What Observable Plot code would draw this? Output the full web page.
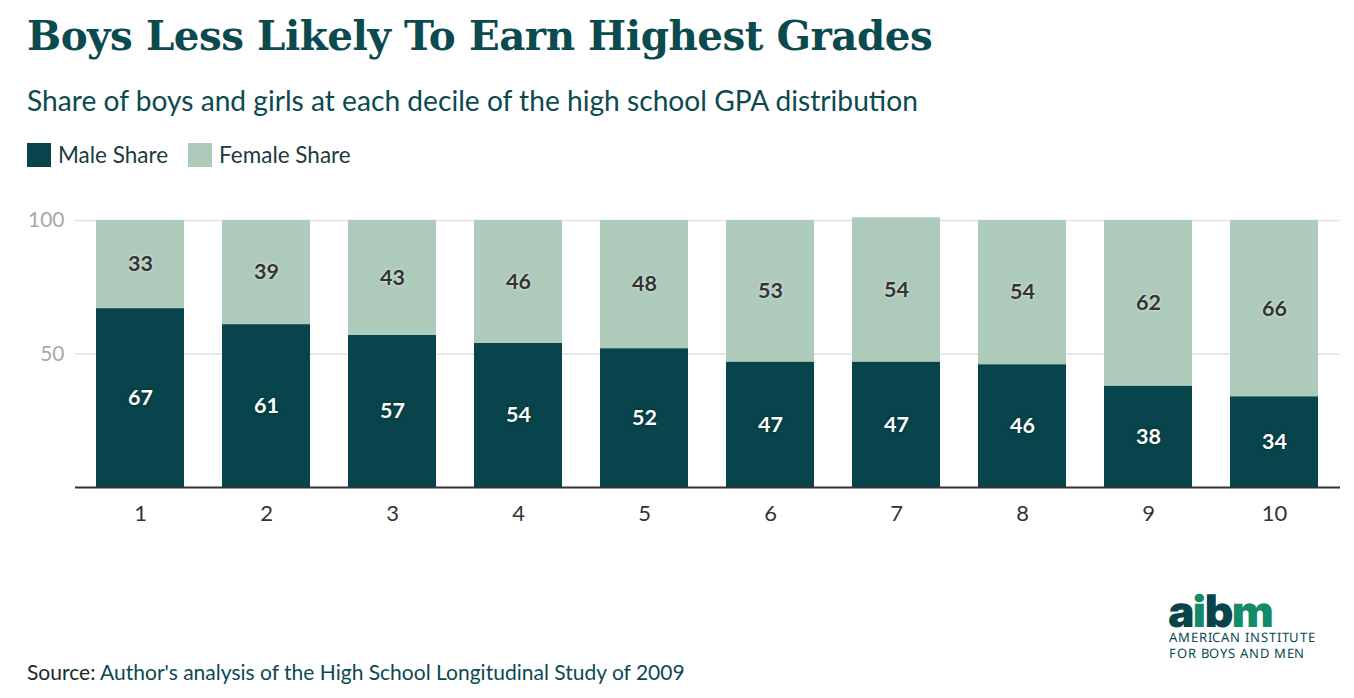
<!DOCTYPE html>
<html>
<head>
<meta charset="utf-8">
<script src="https://cdn.jsdelivr.net/npm/d3@7"></script>
<script src="https://cdn.jsdelivr.net/npm/@observablehq/plot@0.6"></script>
<style>
  @font-face { font-family: "LogoBig"; src: local("Inter Black"), local("Inter-Black"), local("Inter ExtraBold"), local("Inter Bold"), local("Inter-Bold"), local("Inter"); ascent-override: 78%; descent-override: 2%; line-gap-override: 0%; }
  @font-face { font-family: "LogoSmall"; src: local("Noto Sans"), local("NotoSans-Regular"), local("Noto Sans Regular"); ascent-override: 80%; descent-override: 5%; line-gap-override: 0%; }
  html, body { margin: 0; padding: 0; background: #fff; }
  #wrap { position: relative; width: 1354px; height: 698px; overflow: hidden; font-family: Lato, "Noto Sans", sans-serif; }
  .abs { position: absolute; white-space: nowrap; }
  #title { left: 27px; top: 12px; font-family: "DejaVu Serif", serif; font-weight: bold; font-size: 36px; color: #0b4a4f; letter-spacing: -0.5px; }
  #subtitle { left: 27px; top: 83px; font-size: 24px; color: #0b4a4f; }
  #legend { left: 27px; top: 141px; font-size: 22.5px; color: #1c3a3e; display: flex; align-items: center; }
  .sw { display: inline-block; width: 24px; height: 24px; margin-right: 7px; }
  .lg { display: flex; align-items: center; margin-right: 20px; }
  #chart { left: 0; top: 200px; }
  #source { left: 27px; top: 659px; font-size: 19px; color: #0b4a4f; }
  #source b { font-weight: normal; color: #1b2b2d; }
  #logoBig { left: 1168px; top: 592px; font-size: 45px; font-weight: 900; line-height: 36px; height: 36px; letter-spacing: -1px; font-family: LogoBig, Inter, "Noto Sans", sans-serif; }
  .logoSmall { left: 1169px; font-size: 13px; letter-spacing: 0.9px; color: #0b4a4f; line-height: 14px; height: 14px; font-family: LogoSmall, "Noto Sans", sans-serif; }
  .lbl-m text { text-shadow: 0 0 3px rgba(0,0,0,0.4); }
  .lbl-f text { text-shadow: 0 0 3px rgba(255,255,255,0.8); }
</style>
</head>
<body>
<div id="wrap">
  <div id="title" class="abs">Boys Less Likely To Earn Highest Grades</div>
  <div id="subtitle" class="abs">Share of boys and girls at each decile of the high school GPA distribution</div>
  <div id="legend" class="abs">
    <span class="lg"><span class="sw" style="background:#07444b"></span>Male Share</span>
    <span class="lg"><span class="sw" style="background:#adcabb"></span>Female Share</span>
  </div>
  <div id="chart" class="abs"></div>
  <div id="source" class="abs"><b>Source:</b> Author's analysis of the High School Longitudinal Study of 2009</div>
  <div id="logoBig" class="abs"><span style="color:#07444b">a</span><span style="color:#138a69">i</span><span style="color:#07444b">b</span><span style="color:#138a69">m</span></div>
  <div class="abs logoSmall" style="top:631px">AMERICAN INSTITUTE</div>
  <div class="abs logoSmall" style="top:647px">FOR BOYS AND MEN</div>
</div>
<script>
const deciles = [1, 2, 3, 4, 5, 6, 7, 8, 9, 10];
const maleShare = [67, 61, 57, 54, 52, 47, 47, 46, 38, 34];
const femaleShare = [33, 39, 43, 46, 48, 53, 54, 54, 62, 66];
const series = ["Male Share", "Female Share"];
const colors = ["#07444b", "#adcabb"];
const yTicks = [50, 100];

const data = [];
deciles.forEach((d, i) => {
  data.push({decile: d, sex: series[0], value: maleShare[i]});
  data.push({decile: d, sex: series[1], value: femaleShare[i]});
});

const stackOpts = {x: "decile", y: "value", z: "sex", order: series};

const chart = Plot.plot({
  width: 1354,
  height: 340,
  marginTop: 20,
  marginBottom: 53,
  marginLeft: 75,
  marginRight: 14,
  style: {fontFamily: "Lato, 'Noto Sans', sans-serif", fontSize: "20px", background: "transparent"},
  x: {domain: deciles, paddingInner: 0.3, paddingOuter: 0.15, align: 0.5, label: null},
  y: {domain: [0, 100], label: null},
  color: {domain: series, range: colors},
  marks: [
    Plot.gridY(yTicks, {stroke: "#e3e3e3", strokeOpacity: 1, strokeWidth: 1.5}),
    Plot.axisY(yTicks, {tickSize: 0, tickPadding: 11, color: "#a8a8a8", fontSize: 21, label: null}),
    Plot.axisX({tickSize: 0, tickPadding: 18, color: "#333", fontSize: 22, label: null}),
    Plot.barY(data, Plot.stackY({...stackOpts, fill: "sex"})),
    Plot.ruleY([0], {stroke: "#333", strokeWidth: 2}),
    Plot.text(data.filter(d => d.sex === series[0]), Plot.stackY({...stackOpts, order: null, text: "value", fill: "#ffffff", fontWeight: "bold", fontSize: 21.5, className: "lbl-m"})),
    Plot.text(data, Plot.stackY({...stackOpts, text: d => d.sex === series[1] ? d.value : "", fill: "#333333", fontWeight: "bold", fontSize: 21.5, className: "lbl-f"}))
  ]
});
document.getElementById("chart").appendChild(chart);

// fit text widths to the reference
function fit(id, target) {
  const el = document.getElementById(id);
  const fs = parseFloat(getComputedStyle(el).fontSize);
  const w = el.getBoundingClientRect().width;
  el.style.fontSize = (fs * target / w) + "px";
}
fit("title", 903);
fit("subtitle", 891);
fit("source", 658);
</script>
</body>
</html>
